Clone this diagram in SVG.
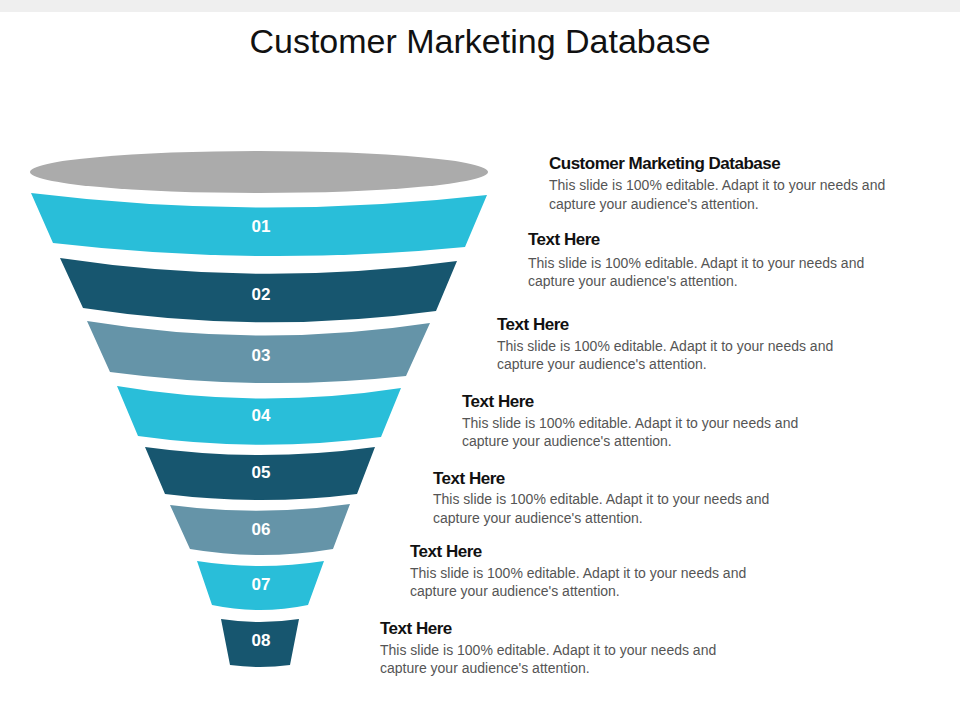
<svg xmlns="http://www.w3.org/2000/svg" width="960" height="720" viewBox="0 0 960 720">
<style>
.c{fill:#29BED9}.d{fill:#17566F}.s{fill:#6594A8}
.n{font-family:"Liberation Sans",Arial,sans-serif;font-weight:bold;font-size:17px;fill:#fff;text-anchor:middle}
.h{font-family:"Liberation Sans",Arial,sans-serif;font-weight:bold;font-size:17px;fill:#111;letter-spacing:-0.5px}
.b{font-family:"Liberation Sans",Arial,sans-serif;font-size:14px;fill:#555}
</style>
<rect x="0" y="0" width="960" height="12" fill="#efefef"/>
<rect x="0" y="12" width="960" height="708" fill="#fff"/>
<text x="480" y="53" text-anchor="middle" font-family="Liberation Sans,Arial,sans-serif" font-size="34" fill="#111">Customer Marketing Database</text>
<g id="top"><ellipse cx="259" cy="172" rx="229" ry="21" fill="#ABABAB"/></g>
<g id="s1"><path class="c" d="M31,193 Q259,221 487,195 L465,247 Q259,267 53,243 Z"/><text class="n" x="261" y="232">01</text></g>
<g id="s2"><path class="d" d="M60,258 Q259,288 457,261 L436,311 Q259,335 83,308 Z"/><text class="n" x="261" y="300">02</text></g>
<g id="s3"><path class="s" d="M87,321 Q259,349 430,323 L406,376 Q259,392 110,372 Z"/><text class="n" x="261" y="361">03</text></g>
<g id="s4"><path class="c" d="M117,386 Q259,410 401,388 L381,437 Q259,453 138,436 Z"/><text class="n" x="261" y="421">04</text></g>
<g id="s5"><path class="d" d="M145,447 Q260,463 375,447 L357,494 Q261,506 165,494 Z"/><text class="n" x="261" y="478">05</text></g>
<g id="s6"><path class="s" d="M170,505 Q260,517 350,504 L333,549 Q261,561 190,549 Z"/><text class="n" x="261" y="535">06</text></g>
<g id="s7"><path class="c" d="M197,561 Q260,571 324,561 L308,605 Q260,615 212,605 Z"/><text class="n" x="261" y="590">07</text></g>
<g id="s8"><path class="d" d="M221,619 Q260,625 299,619 L290,665 Q260,669 230,665 Z"/><text class="n" x="261" y="646">08</text></g>
<g id="t1"><text class="h" x="549" y="169">Customer Marketing Database</text><text class="b" x="549" y="190">This slide is 100% editable. Adapt it to your needs and</text><text class="b" x="549" y="209">capture your audience's attention.</text></g>
<g id="t2"><text class="h" x="528" y="245">Text Here</text><text class="b" x="528" y="268">This slide is 100% editable. Adapt it to your needs and</text><text class="b" x="528" y="286">capture your audience's attention.</text></g>
<g id="t3"><text class="h" x="497" y="330">Text Here</text><text class="b" x="497" y="351">This slide is 100% editable. Adapt it to your needs and</text><text class="b" x="497" y="369">capture your audience's attention.</text></g>
<g id="t4"><text class="h" x="462" y="407">Text Here</text><text class="b" x="462" y="428">This slide is 100% editable. Adapt it to your needs and</text><text class="b" x="462" y="446">capture your audience's attention.</text></g>
<g id="t5"><text class="h" x="433" y="484">Text Here</text><text class="b" x="433" y="504">This slide is 100% editable. Adapt it to your needs and</text><text class="b" x="433" y="523">capture your audience's attention.</text></g>
<g id="t6"><text class="h" x="410" y="557">Text Here</text><text class="b" x="410" y="578">This slide is 100% editable. Adapt it to your needs and</text><text class="b" x="410" y="596">capture your audience's attention.</text></g>
<g id="t7"><text class="h" x="380" y="634">Text Here</text><text class="b" x="380" y="655">This slide is 100% editable. Adapt it to your needs and</text><text class="b" x="380" y="673">capture your audience's attention.</text></g>
</svg>
